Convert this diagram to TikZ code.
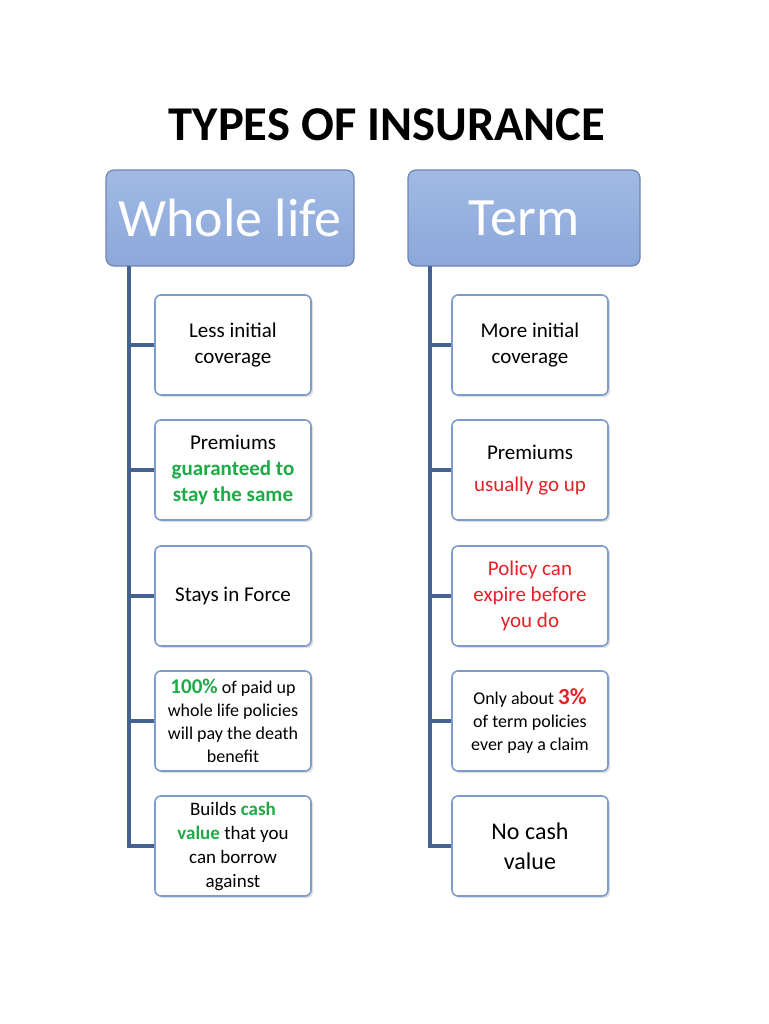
\documentclass[tikz,border=0pt]{standalone}
\usepackage{fontspec}
\setmainfont{Carlito}
\usetikzlibrary{shadows}
\begin{document}
\begin{tikzpicture}[x=0.5pt,y=-0.5pt]
\definecolor{hdr}{RGB}{140,168,218}
\definecolor{hdrtop}{RGB}{160,186,228}
\definecolor{lne}{RGB}{70,98,145}
\definecolor{bord}{RGB}{125,155,205}
\definecolor{gr}{RGB}{30,170,70}
\definecolor{rd}{RGB}{232,32,40}
\tikzset{
 hbox/.style={rounded corners=4pt,draw=hdr!80!black,line width=0.6pt,top color=hdrtop,bottom color=hdr,text=white,font=\fontsize{27}{31}\selectfont,minimum height=48pt,inner sep=0pt},
 cbox/.style={rounded corners=3pt,draw=bord,line width=0.8pt,fill=white,minimum width=78pt,minimum height=50pt,align=center,font=\fontsize{10.5}{13}\selectfont,inner sep=1pt,drop shadow={opacity=0.25,shadow xshift=1pt,shadow yshift=-1pt}},
 conn/.style={draw=lne,line width=2pt}
}
\useasboundingbox (0,0) rectangle (768,1024);
\node[font=\bfseries\fontsize{24.3}{28}\selectfont] (title) at (387,125) {TYPES OF INSURANCE};
\node[hbox,minimum width=124pt] (wl) at (230,218) {Whole life};
\node[hbox,minimum width=116pt] (tm) at (524,218) {Term};
\coordinate (wla) at (129,266); \coordinate (wlb) at (129,848);
\coordinate (tma) at (430,266); \coordinate (tmb) at (430,848);
\draw[conn] (wla) -- (wlb);
\draw[conn] (tma) -- (tmb);
% left
\node[cbox] (l1) at (233,345) {Less initial\\coverage};
\node[cbox] (l2) at (233,470) {Premiums\\\textcolor{gr}{\bfseries guaranteed to}\\\textcolor{gr}{\bfseries stay the same}};
\node[cbox] (l3) at (233,596) {Stays in Force};
\node[cbox,font=\fontsize{9}{11.5}\selectfont] (l4) at (233,721) {\textcolor{gr}{\bfseries\fontsize{10.5}{11.5}\selectfont 100\%} of paid up\\whole life policies\\will pay the death\\benefit};
\node[cbox,font=\fontsize{9.5}{12}\selectfont] (l5) at (233,846) {Builds \textcolor{gr}{\bfseries cash}\\\textcolor{gr}{\bfseries value} that you\\can borrow\\against};
% right
\node[cbox] (r1) at (530,345) {More initial\\coverage};
\node[cbox] (r2) at (530,470) {Premiums\\[3pt]\textcolor{rd}{usually go up}};
\node[cbox,text=rd] (r3) at (530,596) {Policy can\\expire before\\you do};
\node[cbox,font=\fontsize{9}{11.5}\selectfont] (r4) at (530,721) {Only about \textcolor{rd}{\bfseries\fontsize{11.5}{11.5}\selectfont 3\%}\\of term policies\\ever pay a claim};
\node[cbox,font=\fontsize{12}{15}\selectfont] (r5) at (530,846) {No cash\\value};
\foreach \n in {l1,l2,l3,l4,l5}{\draw[conn] (wla |- \n.west) -- (\n.west);}
\foreach \n in {r1,r2,r3,r4,r5}{\draw[conn] (tma |- \n.west) -- (\n.west);}
\end{tikzpicture}
\end{document}
